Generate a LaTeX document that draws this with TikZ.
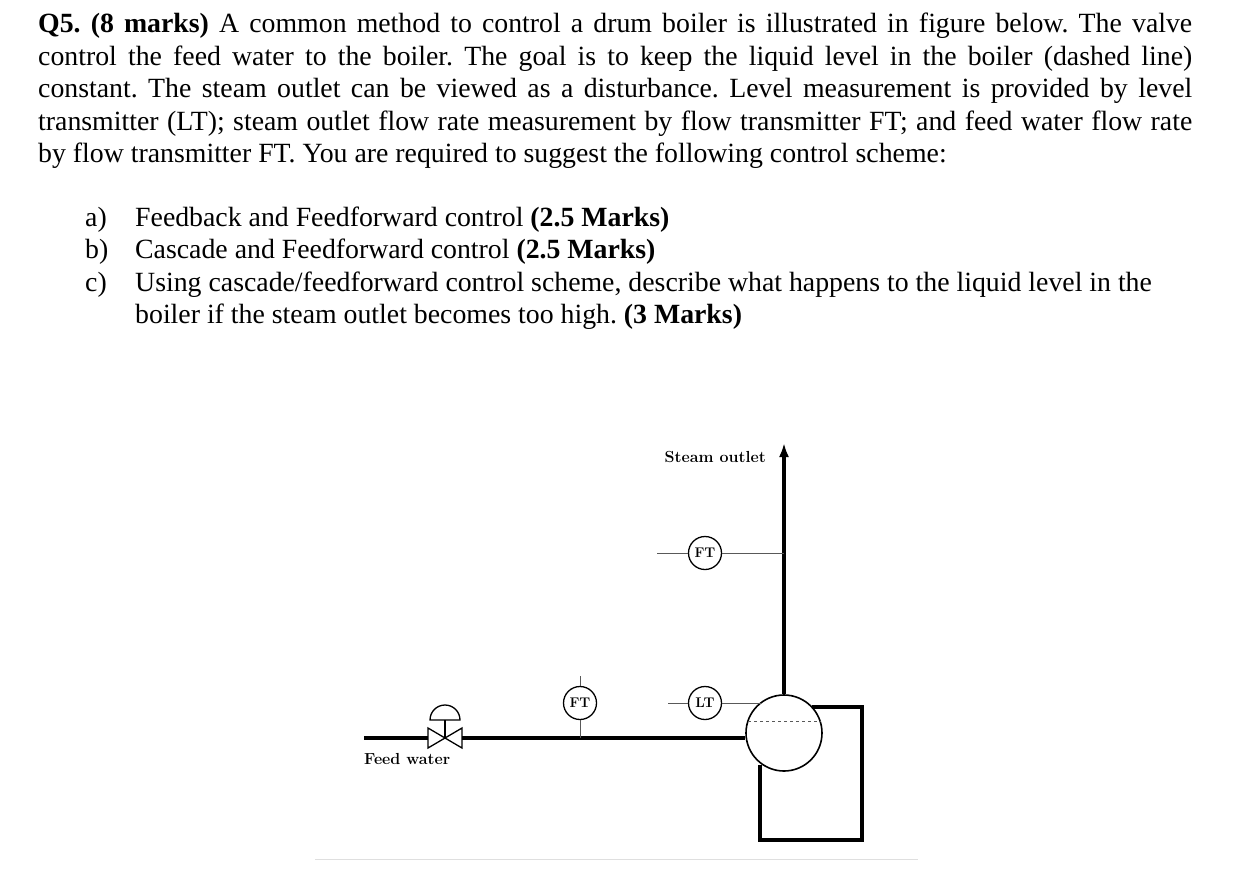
\documentclass[tikz,border=0pt]{standalone}
\usepackage{fontspec}
\usetikzlibrary{arrows.meta}
\newfontfamily\tnr{Liberation Serif}
\begin{document}
\frenchspacing
\begin{tikzpicture}[x=1pt,y=-1pt,
  pipe/.style={line width=3.2pt},
  sig/.style={line width=0.9pt, gray!70!black},
  inst/.style={circle, draw, line width=1.3pt, minimum size=33pt, inner sep=0pt, font=\bfseries\fontsize{14}{14}\selectfont},
  txt/.style={anchor=base west, inner sep=0pt, font=\tnr\fontsize{27.8}{32}\selectfont},
  lab/.style={inner sep=0pt, font=\bfseries\fontsize{16}{16}\selectfont}]
\useasboundingbox (0,0) rectangle (1258,876);
% text
\node[txt] (l1) at (38,32) {\makebox[1154pt][s]{\textbf{Q5. (8 marks)} A common method to control a drum boiler is illustrated in figure below. The valve}};
\node[txt] (l2) at (38,65) {\makebox[1154pt][s]{control the feed water to the boiler. The goal is to keep the liquid level in the boiler (dashed line)}};
\node[txt] (l3) at (38,97) {\makebox[1154pt][s]{constant. The steam outlet can be viewed as a disturbance. Level measurement is provided by level}};
\node[txt] (l4) at (38,130) {\makebox[1154pt][s]{transmitter (LT); steam outlet flow rate measurement by flow transmitter FT; and feed water flow rate}};
\node[txt] (l5) at (38,162) {by flow transmitter FT. You are required to suggest the following control scheme:};
\node[txt] (a) at (85,226) {a)};
\node[txt] (at) at (135,226) {Feedback and Feedforward control \textbf{(2.5 Marks)}};
\node[txt] (b) at (85,258) {b)};
\node[txt] (bt) at (135,258) {Cascade and Feedforward control \textbf{(2.5 Marks)}};
\node[txt] (c) at (85,291) {c)};
\node[txt] (ct) at (135,291) {Using cascade/feedforward control scheme, describe what happens to the liquid level in the};
\node[txt] (ct2) at (135,323) {boiler if the steam outlet becomes too high. \textbf{(3 Marks)}};
% drum
\node[circle, draw, line width=1.6pt, minimum size=76pt, inner sep=0pt] (drum) at (784,733) {};
\draw[dashed, line width=0.9pt, gray!70!black] (748,721) -- (821,721);
\coordinate (rtop) at (812,707);
\coordinate (rbot) at (760,765);
\draw[pipe] (rtop) -- (862,707) -- (862,840) -- (760,840) -- (rbot);
% steam
\coordinate (stop) at (784,443);
\draw[pipe, -{Latex[length=14pt,width=10pt]}] (drum.north) -- (stop);
\node[lab, anchor=east] (steam) at (766,457) {Steam outlet};
% FT top
\node[inst] (ft1) at (705,553) {FT};
\coordinate (ft1l) at (657,553);
\draw[sig] (ft1l) -- (ft1.west);
\draw[sig] (ft1.east) -- (784,553);
% feed pipe
\coordinate (fin) at (364,738);
\draw[pipe] (fin) -- (428,738);
\draw[pipe] (462,738) -- (drum.west |- 0,738);
% valve
\draw[line width=1.3pt] (428,728) -- (462,748) -- (462,728) -- (428,748) -- cycle;
\draw[line width=1.3pt] (445,738) -- (445,720);
\draw[line width=1.3pt] (430,720) -- (460,720) arc[start angle=0,end angle=-180,radius=15] -- cycle;
\node[lab, anchor=north west] (feed) at (364,753) {Feed water};
% FT bottom
\node[inst] (ft2) at (580,703) {FT};
\draw[sig] (ft2.south) -- (580,738);
\draw[sig] (ft2.north) -- (580,676);
% LT
\node[inst] (lt) at (705,703) {LT};
\coordinate (dl) at (761,703);
\draw[sig] (668,703) -- (lt.west);
\draw[sig] (lt.east) -- (dl);
% bottom rule
\draw[gray!25, line width=1pt] (315,859) -- (918,859);
\end{tikzpicture}
\end{document}
